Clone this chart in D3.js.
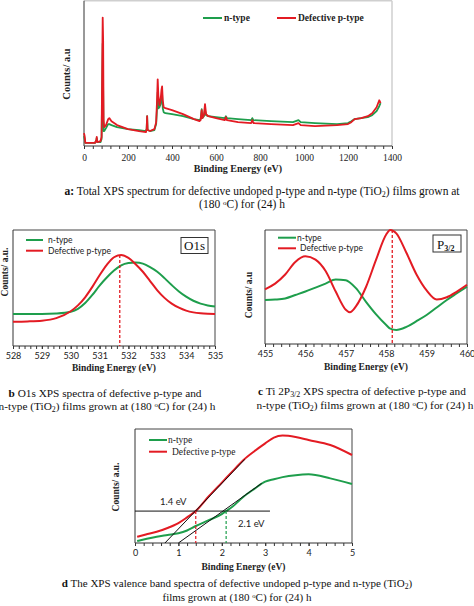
<!DOCTYPE html>
<html>
<head>
<meta charset="utf-8">
<script src="https://cdn.jsdelivr.net/npm/d3@7"></script>
<style>
  body { margin: 0; background: #fff; }
  svg { display: block; }
</style>
</head>
<body>
<script>
// ---------- data (counts in arbitrary units) ----------
const surveyEnergy = [0, 3, 6, 50, 56, 58, 60, 75, 80, 83, 85, 87, 89, 92, 100, 110, 115, 125, 150, 200, 250, 282, 285, 287, 289, 300, 320, 328, 332, 335, 338, 343, 348, 352, 355, 358, 362, 370, 400, 450, 500, 525, 530, 535, 538, 545, 550, 555, 565, 600, 640, 645, 650, 700, 760, 765, 770, 850, 950, 975, 985, 1050, 1150, 1200, 1215, 1230, 1260, 1290, 1310, 1330, 1342, 1348];
const surveyP = [8.9, 6.8, 2.1, 2.1, 4.1, 6.2, 2.7, 3.4, 6.2, 58.9, 88.4, 72.6, 17.8, 13.0, 14.4, 18.5, 19.2, 17.1, 14.4, 11.6, 10.3, 9.6, 12.3, 20.5, 11.0, 10.3, 11.6, 16.4, 31.5, 45.9, 34.9, 28.1, 31.5, 38.4, 41.1, 31.5, 26.7, 26.0, 24.7, 21.9, 18.5, 17.1, 17.8, 24.7, 19.2, 21.2, 28.8, 21.9, 20.5, 19.2, 17.8, 19.9, 17.8, 16.4, 15.8, 17.8, 15.8, 15.1, 14.4, 15.8, 14.4, 13.7, 14.4, 15.1, 16.4, 18.5, 19.2, 20.5, 22.6, 26.7, 31.5, 29.5];
const surveyN = [6.8, 4.8, 2.1, 2.1, 4.1, 5.5, 2.7, 2.7, 4.8, 45.2, 70.5, 38.4, 10.3, 10.3, 12.3, 15.1, 15.1, 14.4, 13.0, 11.6, 11.0, 10.3, 12.3, 20.5, 11.0, 10.3, 11.0, 15.1, 26.0, 37.0, 26.0, 26.7, 28.8, 32.9, 35.6, 26.0, 23.3, 22.6, 21.9, 20.5, 18.5, 17.8, 18.5, 25.3, 19.2, 20.5, 24.7, 21.2, 20.5, 19.9, 19.2, 20.5, 19.2, 18.5, 17.8, 19.2, 17.8, 17.1, 16.4, 17.8, 16.4, 15.8, 15.1, 15.8, 17.1, 18.5, 19.2, 19.9, 21.2, 24.0, 27.4, 29.5];

const o1sEnergy = [528, 528.5, 529, 529.5, 530, 530.25, 530.5, 530.75, 531, 531.25, 531.5, 531.75, 532, 532.25, 532.5, 532.75, 533, 533.25, 533.5, 533.75, 534, 534.25, 534.5, 534.75, 535];
const o1sP = [21, 21.2, 21.8, 24, 30, 35, 42, 51, 61, 70, 76.5, 78.4, 76, 70.5, 64, 56, 48, 41.5, 36.5, 33, 30.5, 29, 28.2, 27.8, 27.6];
const o1sN = [27.6, 27.6, 27.6, 28, 29.5, 32, 37, 44, 52, 59, 65, 69.5, 71.5, 72, 71, 68, 64, 58.5, 52.5, 47, 42.5, 39, 36.5, 35, 34];
const o1sPeak = 531.7;

const tiEnergy = [455, 455.25, 455.5, 455.75, 456, 456.25, 456.5, 456.75, 457, 457.1, 457.25, 457.5, 457.75, 458, 458.1, 458.25, 458.5, 458.75, 459, 459.25, 459.5, 459.75, 460];
const tiP = [48, 53, 61, 72, 77, 74, 64, 46, 30, 27.8, 33, 50, 74, 96, 100, 97, 80, 61, 47, 39, 41, 46, 52];
const tiN = [38.6, 39, 40, 43, 46, 49.5, 53, 56.5, 56, 54, 49, 37, 26, 16.7, 13.5, 12.3, 15, 20, 25.4, 32, 38.6, 44.5, 50.3];
const tiPeak = 458.15;

const vbEnergy = [0.05, 0.25, 0.5, 0.75, 1, 1.2, 1.4, 1.7, 2, 2.1, 2.25, 2.5, 2.75, 3, 3.2, 3.4, 3.7, 4, 4.5, 5];
const vbP = [5.5, 7.5, 9.9, 13.2, 17.5, 22.5, 28, 41, 53, 57, 63, 72.8, 80.5, 87.4, 92.5, 94.2, 93, 90.4, 86, 77.2];
const vbN = [1.8, 3.5, 5.5, 7, 8.5, 11, 14.9, 20, 25.4, 28, 32, 40.6, 47.5, 53.8, 56, 57.8, 59.5, 60.2, 56.7, 51.8];
const vbTangentP = [[0.69, 0], [2.53, 73.4]];
const vbTangentN = [[1.0, 0], [2.92, 52.4]];
const vbLevel = [[0, 28], [3.11, 28]];
const gapP = 1.4, gapN = 2.1;

const seriesNames = ["n-type", "Defective p-type"];

// ---------- drawing ----------
const GREEN = "#1e9e4c", RED = "#e31b23";
const serif = "'Liberation Serif', 'Times New Roman', serif";
const sans = "Lato, 'Open Sans', sans-serif";

const svg = d3.select("body").append("svg")
    .attr("width", 474)
    .attr("height", 606);

svg.append("rect").attr("width", 474).attr("height", 606).attr("fill", "#fff");

function panel(p) {
  const x = d3.scaleLinear().domain(p.xDomain).range([p.left, p.right]);
  const y = d3.scaleLinear().domain([0, 100]).range([p.bottom, p.top]);
  const g = svg.append("g");

  // minor + major ticks
  g.append("g")
      .attr("transform", "translate(0," + p.bottom + ")")
      .call(d3.axisBottom(x).tickValues(p.minor).tickSize(3).tickFormat(""))
      .call(a => a.select(".domain").remove())
      .call(a => a.selectAll("line").attr("stroke", "#333"));
  g.append("g")
      .attr("transform", "translate(0," + p.bottom + ")")
      .call(d3.axisBottom(x).tickValues(p.major).tickSize(3).tickPadding(p.pad).tickFormat(d3.format("d")))
      .call(a => a.select(".domain").remove())
      .call(a => a.selectAll("line").attr("stroke", "#333"))
      .call(a => a.selectAll("text")
          .attr("font-family", p.tickFont)
          .attr("font-size", p.tickSize)
          .attr("fill", "#222"));

  // frame
  g.append("line").attr("x1", p.left).attr("x2", p.right).attr("y1", p.top).attr("y2", p.top)
      .attr("stroke", p.frameLight || "#444").attr("stroke-width", p.frameLight ? 1.5 : 1);
  g.append("line").attr("x1", p.right).attr("x2", p.right).attr("y1", p.top).attr("y2", p.bottom)
      .attr("stroke", p.frameLight || "#444").attr("stroke-width", p.frameLight ? 1.5 : 1);
  g.append("line").attr("x1", p.left).attr("x2", p.right).attr("y1", p.bottom).attr("y2", p.bottom)
      .attr("stroke", "#333");
  g.append("line").attr("x1", p.left).attr("x2", p.left).attr("y1", p.top).attr("y2", p.bottom)
      .attr("stroke", "#333");

  const line = d3.line()
      .x(d => x(d[0]))
      .y(d => y(d[1]))
      .curve(p.curve);

  [[p.n, GREEN], [p.p, RED]].forEach(([vals, col]) => {
    g.append("path")
        .datum(p.energy.map((e, i) => [e, vals[i]]))
        .attr("fill", "none")
        .attr("stroke", col)
        .attr("stroke-width", p.lw)
        .attr("stroke-linejoin", "round")
        .attr("d", line);
  });

  // axis titles
  g.append("text")
      .attr("x", (p.left + p.right) / 2 + (p.xlabDx || 0))
      .attr("y", p.xlabY)
      .attr("text-anchor", "middle")
      .attr("font-family", serif)
      .attr("font-weight", "bold")
      .attr("font-size", p.labSize)
      .attr("fill", "#222")
      .text("Binding Energy (eV)");
  g.append("text")
      .attr("transform", "translate(" + p.ylabX + "," + p.ylabY + ") rotate(-90)")
      .attr("text-anchor", "middle")
      .attr("font-family", serif)
      .attr("font-weight", "bold")
      .attr("font-size", p.ylabSize || p.labSize)
      .attr("fill", "#222")
      .text(p.ylab);

  return { x, y, g };
}

// stacked legend (panels b, c, d)
function legend(g, lx, ly, gap, len, font, size, dxText) {
  seriesNames.forEach((name, i) => {
    const col = i === 0 ? GREEN : RED;
    const cy = ly + i * gap;
    g.append("line").attr("x1", lx).attr("x2", lx + len).attr("y1", cy).attr("y2", cy)
        .attr("stroke", col).attr("stroke-width", 2);
    g.append("text").attr("x", lx + len + dxText[i]).attr("y", cy).attr("dy", "0.35em")
        .attr("font-family", font).attr("font-size", size)
        .attr("fill", "#222")
        .text(name);
  });
}

function caption(cx, cy, parts, size) {
  const t = svg.append("text").attr("x", cx).attr("y", cy).attr("text-anchor", "middle")
      .attr("font-family", serif).attr("font-size", size).attr("fill", "#111");
  parts.forEach(([txt, st]) => {
    const s = t.append("tspan").text(txt);
    if (st === "b") s.attr("font-weight", "bold");
    if (st === "sub") s.attr("font-size", size * 0.7).attr("dy", 2);
    if (st === "sup") s.attr("font-size", size * 0.6).attr("dy", -3.5);
    if (st === "back") s.attr("dy", -2);
    if (st === "down") s.attr("dy", 3.5);
  });
}

// ---- panel a: survey ----
const A = panel({
  left: 84, right: 392, top: 0.75, bottom: 146,
  xDomain: [0, 1400], major: d3.range(0, 1401, 200), minor: d3.range(0, 1401, 40),
  energy: surveyEnergy, n: surveyN, p: surveyP, curve: d3.curveLinear, lw: 1.8,
  tickFont: serif, tickSize: 9.5, pad: 5, labSize: 10, ylabSize: 10.5,
  xlabY: 172, ylab: "Counts/ a.u", ylabX: 70, ylabY: 74, frameLight: "#cfcfcf"
});
// legend in panel a is laid out side by side
[[203, GREEN, seriesNames[0]], [277, RED, seriesNames[1]]].forEach(([lx, col, name]) => {
  A.g.append("line").attr("x1", lx).attr("x2", lx + 19).attr("y1", 18).attr("y2", 18)
      .attr("stroke", col).attr("stroke-width", 2);
  A.g.append("text").attr("x", lx + 21).attr("y", 18).attr("dy", "0.35em")
      .attr("font-family", serif).attr("font-size", 9.5).attr("font-weight", "bold")
      .attr("fill", "#222").text(name);
});

caption(262, 195, [["a:", "b"], [" Total XPS spectrum for defective undoped p-type and n-type (TiO", ""], ["2", "sub"], [") films grown at", "back"]], 11.5);
caption(242, 208, [["(180 ", ""], ["o", "sup"], ["C) for (24) h", "down"]], 11.5);

// ---- panel b: O1s ----
const B = panel({
  left: 13, right: 215, top: 230, bottom: 346,
  xDomain: [528, 535], major: d3.range(528, 535.01, 1), minor: d3.range(528, 535.01, 0.2),
  energy: o1sEnergy, n: o1sN, p: o1sP, curve: d3.curveMonotoneX, lw: 2,
  tickFont: sans, tickSize: 9, pad: 4, labSize: 9.5,
  xlabY: 371, ylab: "Counts/ a.u.", ylabX: 8, ylabY: 272
});
legend(B.g, 26, 240, 10.7, 17, sans, 8.5, [5, 5]);
B.g.append("line")
    .attr("x1", B.x(o1sPeak)).attr("x2", B.x(o1sPeak))
    .attr("y1", B.y(78.4)).attr("y2", B.y(0))
    .attr("stroke", RED).attr("stroke-width", 1.3).attr("stroke-dasharray", "3,2");
B.g.append("rect").attr("x", 181).attr("y", 237.5).attr("width", 27).attr("height", 16)
    .attr("fill", "#fff").attr("stroke", "#333");
B.g.append("text").attr("x", 194.5).attr("y", 250).attr("text-anchor", "middle")
    .attr("font-family", serif).attr("font-size", 13).attr("fill", "#111").text("O1s");

caption(105, 397, [["b", "b"], [" O1s XPS spectra of defective p-type and", ""]], 11.3);
caption(107, 410, [["n-type (TiO", ""], ["2", "sub"], [") films grown at (180 ", "back"], ["o", "sup"], ["C) for (24) h", "down"]], 11.3);

// ---- panel c: Ti 2p3/2 ----
const C = panel({
  left: 265, right: 467, top: 230, bottom: 344,
  xDomain: [455, 460], major: d3.range(455, 460.01, 1), minor: d3.range(455, 460.01, 0.2),
  energy: tiEnergy, n: tiN, p: tiP, curve: d3.curveMonotoneX, lw: 2,
  tickFont: sans, tickSize: 9, pad: 4, labSize: 9.5,
  xlabY: 370, ylab: "Counts/ a.u", ylabX: 252, ylabY: 295
});
legend(C.g, 278, 237.7, 10.6, 18, sans, 8.5, [1, 4]);
C.g.append("line")
    .attr("x1", C.x(tiPeak)).attr("x2", C.x(tiPeak))
    .attr("y1", C.y(100)).attr("y2", C.y(0))
    .attr("stroke", RED).attr("stroke-width", 1.3).attr("stroke-dasharray", "3,2");
C.g.append("rect").attr("x", 433).attr("y", 235).attr("width", 28).attr("height", 17)
    .attr("fill", "#fff").attr("stroke", "#333");
C.g.append("text").attr("x", 437).attr("y", 248.5)
    .attr("font-family", serif).attr("font-size", 13).attr("fill", "#111")
    .call(t => {
      t.append("tspan").text("P");
      t.append("tspan").attr("font-size", 8).attr("font-weight", "bold").attr("dy", 2.5).text("3/2");
    });

caption(362, 395, [["c", "b"], [" Ti 2P", ""], ["3/2", "sub"], [" XPS spectra of defective p-type and", "back"]], 11.3);
caption(365, 409, [["n-type (TiO", ""], ["2", "sub"], [") films grown at (180 ", "back"], ["o", "sup"], ["C) for (24) h", "down"]], 11.3);

// ---- panel d: valence band ----
const D = panel({
  left: 135, right: 352, top: 429, bottom: 543,
  xDomain: [0, 5], major: d3.range(0, 5.01, 1), minor: d3.range(0, 5.01, 0.2),
  energy: vbEnergy, n: vbN, p: vbP, curve: d3.curveMonotoneX, lw: 2,
  tickFont: sans, tickSize: 9, pad: 4, labSize: 9.5,
  xlabY: 570, ylab: "Counts/ a.u.", ylabX: 119, ylabY: 487
});
const straight = d3.line().x(d => D.x(d[0])).y(d => D.y(d[1]));
[vbTangentP, vbTangentN, vbLevel].forEach(seg => {
  D.g.append("path").datum(seg).attr("d", straight)
      .attr("stroke", "#111").attr("stroke-width", 1).attr("fill", "none");
});
[[gapP, RED], [gapN, GREEN]].forEach(([e, col]) => {
  D.g.append("line").attr("x1", D.x(e)).attr("x2", D.x(e))
      .attr("y1", D.y(vbLevel[0][1])).attr("y2", D.y(0))
      .attr("stroke", col).attr("stroke-width", 1.2).attr("stroke-dasharray", "3,2");
});
D.g.append("text").attr("x", 160).attr("y", 505).attr("font-family", sans).attr("font-size", 9.5)
    .attr("fill", "#222").text(gapP + " eV");
D.g.append("text").attr("x", 238).attr("y", 527).attr("font-family", sans).attr("font-size", 9.5)
    .attr("fill", "#222").text(gapN + " eV");
legend(D.g, 149, 440, 11.7, 18, serif, 9.5, [1, 5]);

caption(237, 587, [["d", "b"], [" The XPS valence band spectra of defective undoped p-type and n-type (TiO", ""], ["2", "sub"], [")", "back"]], 11);
caption(237, 601, [["films grown at (180 ", ""], ["o", "sup"], ["C) for (24) h", "down"]], 11);
</script>
</body>
</html>
